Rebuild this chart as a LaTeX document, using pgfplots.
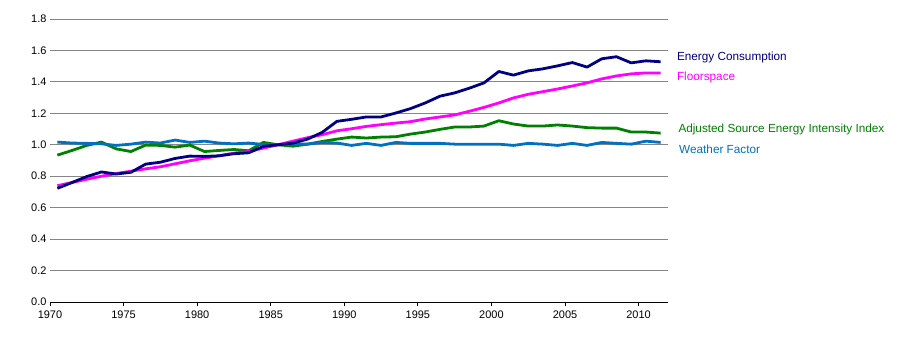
\documentclass[border=0pt]{standalone}
\usepackage{pgfplots}
\usepackage{pgfplotstable}
\pgfplotsset{compat=1.18}
\usepackage{fontspec}
\setmainfont{Liberation Sans}
\definecolor{cEnergy}{RGB}{0,0,128}
\definecolor{cFloor}{RGB}{255,0,255}
\definecolor{cInt}{RGB}{0,128,0}
\definecolor{cWeather}{RGB}{0,112,192}
\definecolor{cGrid}{RGB}{134,134,134}

% year, energy, floorspace, intensity, weather
\pgfplotstableread{
year energy floor intens weather
1970 0.723 0.740 0.934 1.017
1971 0.760 0.760 0.964 1.011
1972 0.798 0.781 0.996 1.009
1973 0.827 0.800 1.017 1.006
1974 0.814 0.817 0.974 0.996
1975 0.825 0.832 0.957 1.004
1976 0.877 0.847 0.998 1.017
1977 0.889 0.860 0.996 1.011
1978 0.913 0.879 0.985 1.030
1979 0.928 0.898 0.998 1.015
1980 0.926 0.915 0.957 1.023
1981 0.930 0.930 0.964 1.011
1982 0.943 0.947 0.970 1.006
1983 0.949 0.957 0.962 1.011
1984 0.990 0.979 1.015 1.002
1985 1.000 1.000 1.000 1.000
1986 1.010 1.023 0.991 1.006
1987 1.036 1.045 1.004 1.004
1988 1.079 1.064 1.021 1.015
1989 1.149 1.089 1.036 1.011
1990 1.162 1.102 1.049 0.996
1991 1.177 1.117 1.043 1.009
1992 1.177 1.128 1.049 0.996
1993 1.202 1.138 1.051 1.015
1994 1.230 1.147 1.068 1.009
1995 1.266 1.164 1.081 1.009
1996 1.309 1.177 1.098 1.009
1997 1.330 1.190 1.113 1.004
1998 1.360 1.213 1.113 1.004
1999 1.394 1.238 1.119 1.004
2000 1.466 1.266 1.153 1.004
2001 1.443 1.298 1.132 0.996
2002 1.470 1.321 1.119 1.009
2003 1.483 1.338 1.119 1.004
2004 1.502 1.355 1.126 0.996
2005 1.523 1.374 1.119 1.009
2006 1.494 1.394 1.109 0.996
2007 1.547 1.419 1.106 1.015
2008 1.560 1.438 1.106 1.009
2009 1.521 1.451 1.081 1.004
2010 1.534 1.457 1.081 1.023
2011 1.528 1.457 1.074 1.015
}\datatable

\begin{document}
\begin{tikzpicture}
\useasboundingbox (-50bp,-47bp) rectangle (853bp,302bp);
\begin{axis}[
  at={(0,0)}, anchor=south west,
  scale only axis,
  width=618bp, height=283bp,
  xmin=1970, xmax=2012,
  ymin=0, ymax=1.8,
  xtick={1970,1975,...,2010},
  ytick={0,0.2,...,1.8},
  axis x line*=bottom,
  axis y line*=left,
  axis line style={-},
  y axis line style={draw=none},
  x axis line style={black, line width=0.8pt},
  ytick style={draw=none},
  xtick style={black, line width=0.8pt},
  xtick align=outside,
  major tick length=4bp,
  ymajorgrids,
  major grid style={cGrid, line width=0.9pt},
  tick label style={font=\fontsize{11}{13}\selectfont, text=black},
  xticklabel style={yshift=-1bp},
  yticklabel style={/pgf/number format/.cd, fixed, fixed zerofill, precision=1},
  /pgf/number format/1000 sep={},
  /pgf/number format/assume math mode=true,
  clip=false,
  every axis plot/.append style={line width=2.8pt, line join=round},
]
\addplot[cInt, no marks] table[x expr=\thisrow{year}+0.5, y=intens] {\datatable};
\addplot[cWeather, no marks] table[x expr=\thisrow{year}+0.5, y=weather] {\datatable};
\addplot[cFloor, no marks] table[x expr=\thisrow{year}+0.5, y=floor] {\datatable};
\addplot[cEnergy, no marks] table[x expr=\thisrow{year}+0.5, y=energy] {\datatable};

\node[anchor=west, text=cEnergy, font=\fontsize{11.8}{13}\selectfont, inner sep=0pt] at (axis cs:2012.6,1.558) {Energy Consumption};
\node[anchor=west, text=cFloor, font=\fontsize{11.8}{13}\selectfont, inner sep=0pt] at (axis cs:2012.6,1.431) {Floorspace};
\node[anchor=west, text=cInt, font=\fontsize{11.8}{13}\selectfont, inner sep=0pt] at (axis cs:2012.7,1.10) {Adjusted Source Energy Intensity Index};
\node[anchor=west, text=cWeather, font=\fontsize{11.8}{13}\selectfont, inner sep=0pt] at (axis cs:2012.75,0.973) {Weather Factor};
\end{axis}
\end{tikzpicture}
\end{document}
